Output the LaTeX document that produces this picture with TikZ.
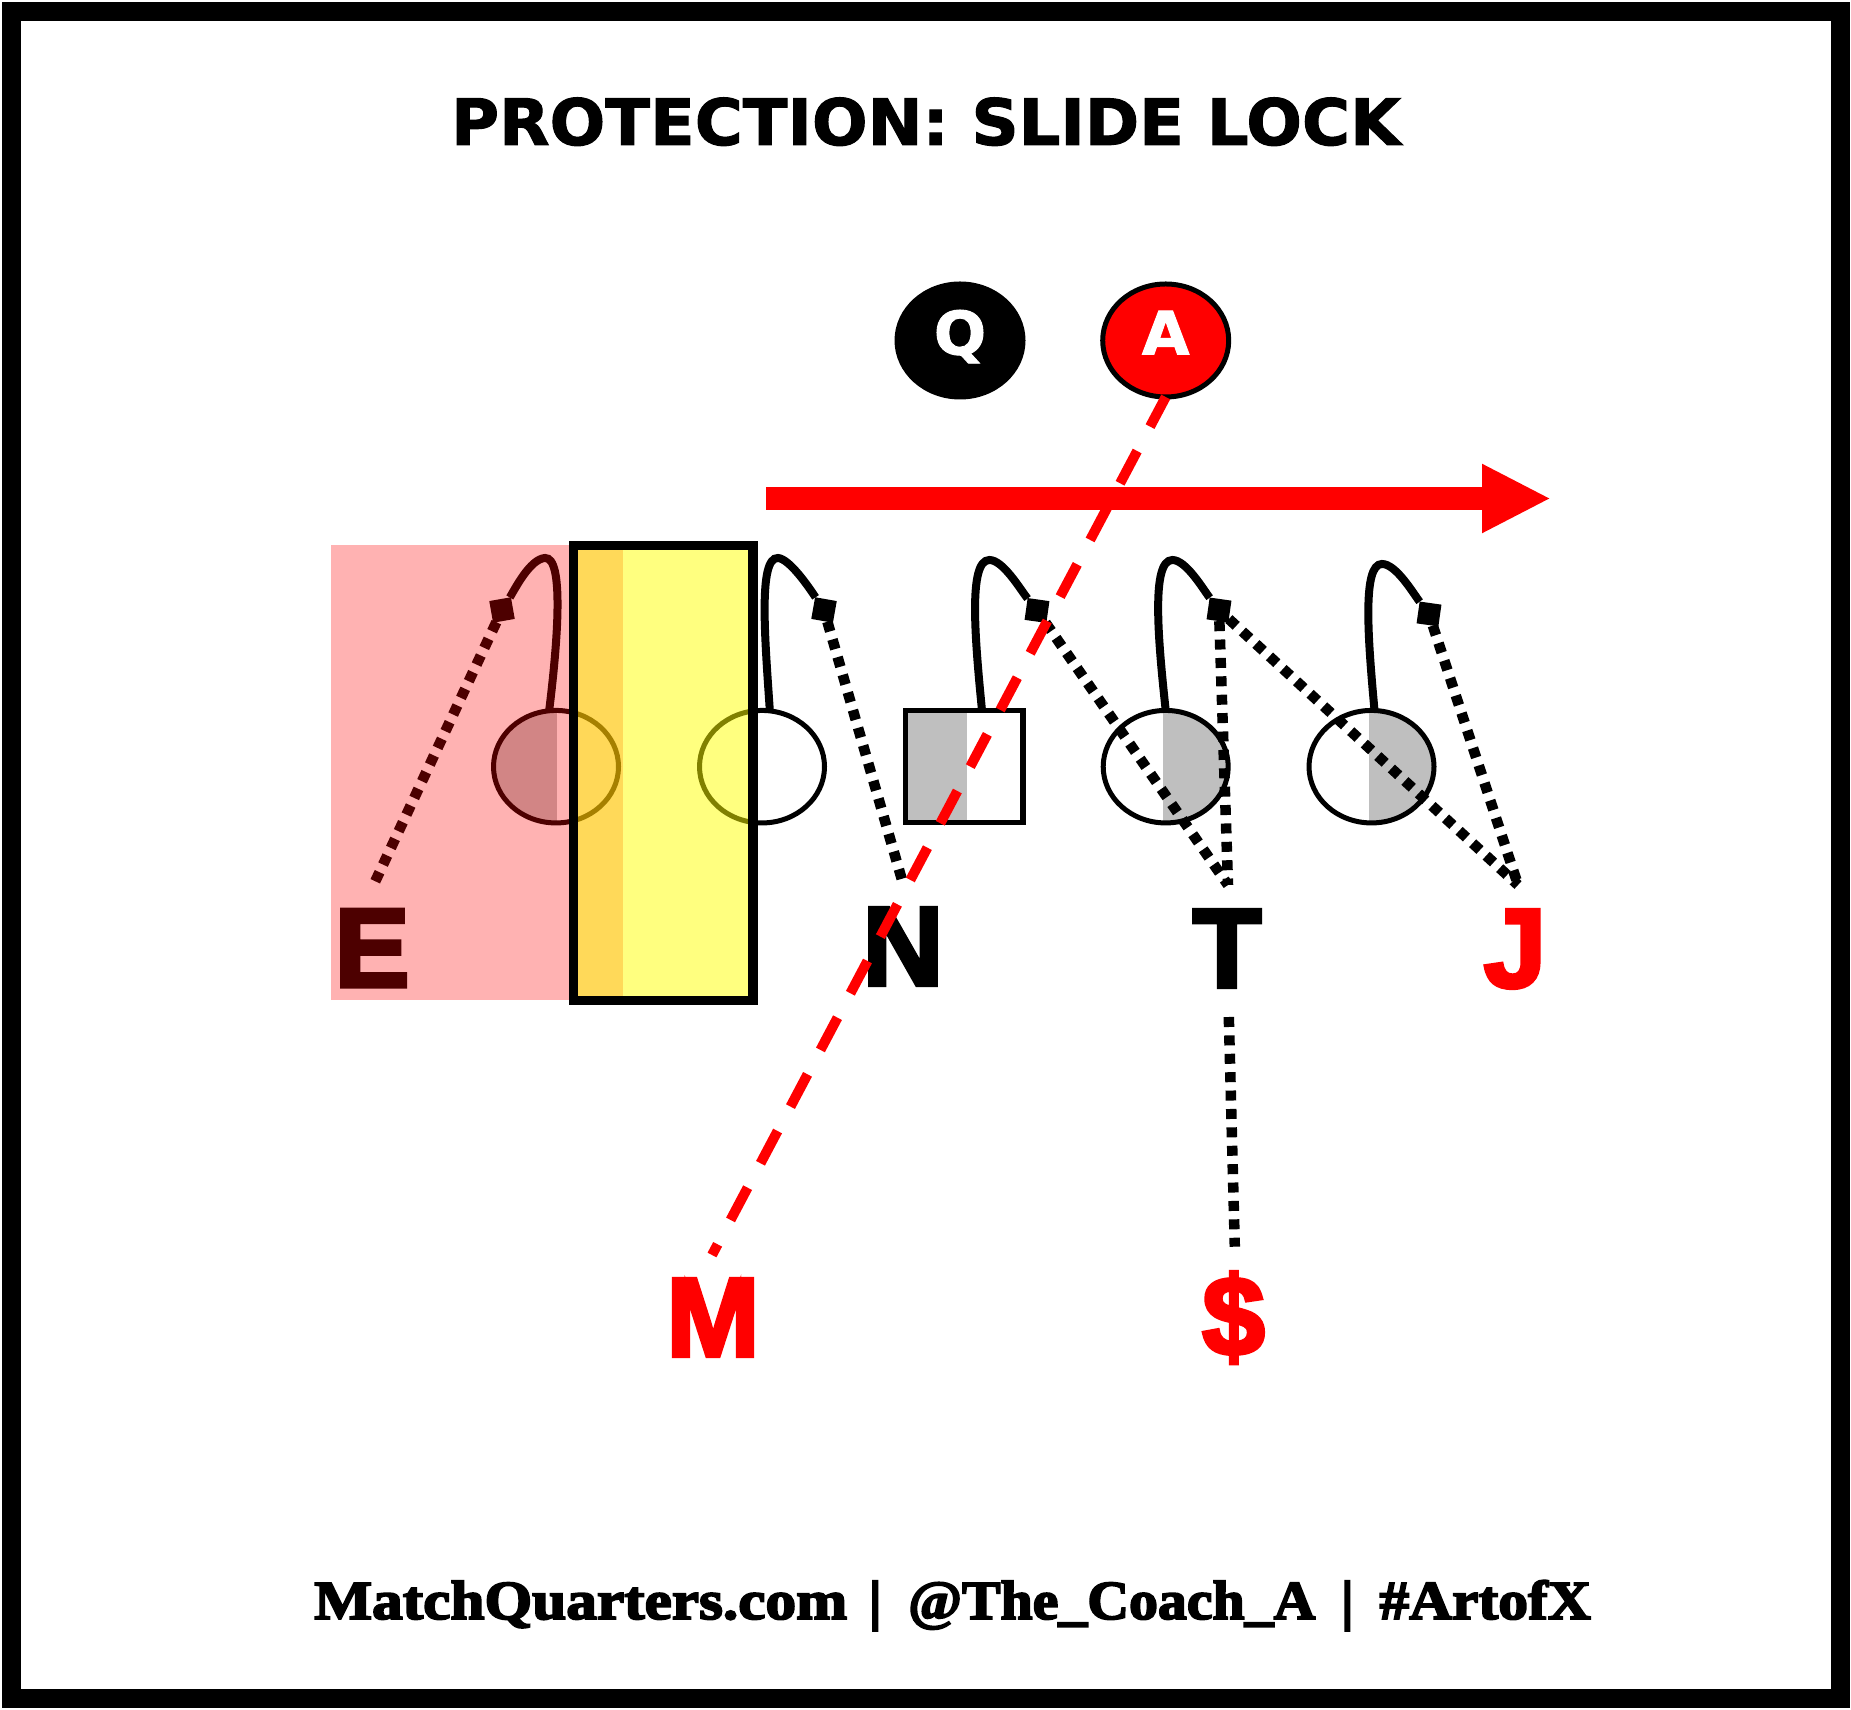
\documentclass[tikz,border=0pt]{standalone}
\usepackage{fontspec}
\usetikzlibrary{arrows.meta, calc, shapes.geometric}
\setmainfont[BoldFeatures={FakeBold=1.6,FakeStretch=1.024}]{DejaVu Sans}
\newfontfamily\letterfont[BoldFeatures={FakeBold=3.6}]{Liberation Sans}
\newfontfamily\footfont[BoldFeatures={FakeBold=3.4,FakeStretch=1.115}]{Liberation Serif}
\definecolor{shadegray}{HTML}{BFBFBF}
\definecolor{slideyellow}{RGB}{255,255,0}
\tikzset{
    player/.style={ellipse, draw=black, fill=white, line width=5pt, inner sep=0pt, outer sep=0pt, minimum width=125pt, minimum height=112.5pt},
    center/.style={rectangle, draw=black, fill=white, line width=5.5pt, inner sep=0pt, outer sep=0pt, minimum width=117.5pt, minimum height=112pt},
    halfleft/.style={path picture={\fill [shadegray] ([xshift=#1]path picture bounding box.north) rectangle (path picture bounding box.south west);}},
    halfright/.style={path picture={\fill [shadegray] ([xshift=#1]path picture bounding box.north) rectangle (path picture bounding box.south east);}},
    back/.style={ellipse, line width=5pt, draw=black, inner sep=0pt, outer sep=0pt, minimum width=126pt, minimum height=113pt, text=white, text height=44pt, text depth=16pt, font=\bfseries\fontsize{60}{60}\selectfont},
    rushletter/.style={anchor=base, inner sep=0pt, font=\letterfont\bfseries\fontsize{112}{112}\selectfont},
    route/.style={line width=8pt},
    blocksq/.style={rectangle, fill=black, inner sep=0pt, outer sep=0pt, minimum size=22pt},
    assign/.style={line width=10.5pt, dash pattern=on 10pt off 8.4pt},
    runline/.style={red, line width=10pt, dash pattern=on 36.5pt off 27.6pt, dash phase=3pt}
}

\begin{document}
\begin{tikzpicture}[x=1pt, y=1pt]
    \useasboundingbox (0,0) rectangle (1851,1709);
    \draw [line width=19pt] (11,11) rectangle (1840,1697);

    \node [font=\bfseries\fontsize{64}{64}\selectfont, anchor=base] (title) at (926,1564) {PROTECTION: SLIDE LOCK};
    \node [font=\footfont\bfseries\fontsize{55}{55}\selectfont, anchor=base west, inner sep=0pt] (foot) at (314,90) {MatchQuarters.com\hskip 28pt\makebox[0pt]{|}\hskip 33pt\scalebox{0.943}[1]{@The\_Coach\_A}\hskip 32pt\makebox[0pt]{|}\hskip 32pt\scalebox{0.97}[1]{\#ArtofX}};

    % offensive line
    \node [player, halfleft=1pt] (lt) at (556,942.3) {};
    \node [player] (lg) at (762,942.3) {};
    \node [center, halfleft=3pt] (c) at (964,942.5) {};
    \node [player, halfright=-2.5pt] (rg) at (1165.7,942.3) {};
    \node [player, halfright=-2.5pt] (rt) at (1371.5,942.3) {};

    % backfield
    \node [back, fill=black] (q) at (960,1368.5) {Q};
    \node [back, fill=red] (a) at (1165.7,1368.5) {A};

    % defenders
    \node [rushletter] (e) at (372,722.3) {E};
    \node [rushletter] (n) at (903,724) {N};
    \node [rushletter] (t) at (1227,722) {T};
    \node [rushletter, red] (j) at (1515,722) {J};
    \node [rushletter, red] (m) at (713,353) {M};
    \node [rushletter, red] (s) at (1233.5,354) {\$};

    % set points
    \node [blocksq, rotate=10] (sqlt) at (502,1099) {};
    \node [blocksq, rotate=-10] (sqlg) at (824,1099) {};
    \node [blocksq, rotate=-8] (sqc) at (1037,1098.5) {};
    \node [blocksq, rotate=-8] (sqrg) at (1219,1099) {};
    \node [blocksq, rotate=-8] (sqrt) at (1429,1095) {};

    \draw [route] (lt.97) .. controls (558,1070) and (564,1152) .. (545,1151) .. controls (530,1150) and (515,1120) .. (sqlt);
    \draw [route] (lg.82) .. controls (765,1070) and (758,1152) .. (778,1151) .. controls (790,1150) and (810,1120) .. (sqlg);
    \draw [route] ([xshift=18pt]c.north) .. controls (975,1070) and (968,1149) .. (989.4,1149) .. controls (1003,1149) and (1020,1120) .. (sqc);
    \draw [route] (rg.north) .. controls (1158,1070) and (1151,1149) .. (1172.4,1149) .. controls (1186,1149) and (1203,1120) .. (sqrg);
    \draw [route] ([xshift=3pt]rt.north) .. controls (1368,1070) and (1362,1145) .. (1382,1145) .. controls (1396,1145) and (1413,1116) .. (sqrt);

    % free ends of the assignments
    \coordinate (ende) at (374,825);
    \coordinate (endn) at (902,829);
    \coordinate (endt) at (1228,824);
    \coordinate (endj) at (1518,824);
    \coordinate (endm) at (712,454);
    \coordinate (topt) at (1228.8,692);
    \coordinate (tops) at (1234.8,462.3);

    \draw [assign] (sqlt) -- (ende);
    \draw [assign] (sqlg) -- (endn);
    \draw [assign] (sqc) -- (endt);
    \draw [assign] (sqrg) -- (endt);
    \draw [assign] (sqrg) -- (endj);
    \draw [assign] (sqrt) -- (endj);
    \draw [assign] (topt) -- (tops);

    % slide call and the back's path
    \coordinate (slidel) at (766,1210.5);
    \coordinate (slider) at (1551,1210.5);
    \draw [red, line width=23pt, -{Triangle[length=69pt, width=64pt]}] (slidel) -- (slider);
    \draw [runline] (a.south) -- (endm);

    % overlays
    \fill [red, opacity=0.3] (330.7,709) rectangle (622.9,1164);
    \draw [line width=9.5pt, fill=slideyellow, fill opacity=0.5] (573.6,708.5) rectangle (753.2,1163.5);
    \end{tikzpicture}
\end{document}
